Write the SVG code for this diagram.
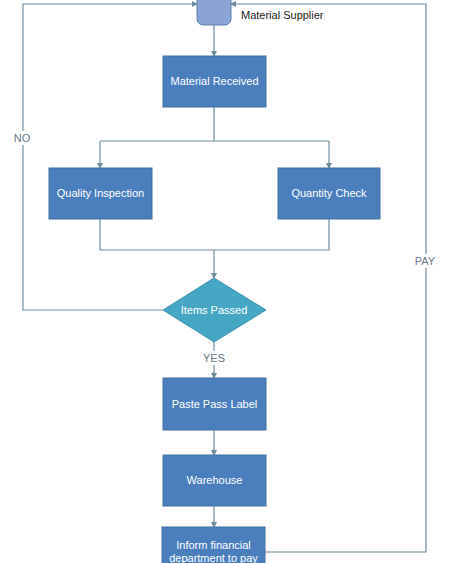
<svg xmlns="http://www.w3.org/2000/svg" width="450" height="563" viewBox="0 0 450 563">
<style>
.box{fill:#4A7EBD;stroke:#41709F;stroke-width:1}
.dia{fill:#46A7C4;stroke:#3F95AF;stroke-width:1}
.sup{fill:#8AA4D6;stroke:#5E7FAF;stroke-width:1}
.lbl{font-family:"Liberation Sans",Arial,sans-serif;font-size:11px;fill:#FFFFFF;text-anchor:middle}
.edge{fill:none;stroke:#6E8C9C;stroke-width:1.2}
.elbl{font-family:"Liberation Sans",Arial,sans-serif;font-size:11px;fill:#6A7A86;text-anchor:middle}
</style>
<defs>
<marker id="arr" markerWidth="6" markerHeight="6" refX="5" refY="3" orient="auto" markerUnits="userSpaceOnUse">
<path d="M0,0 L6,3 L0,6 Z" fill="#6E8C9C"/>
</marker>
</defs>
<rect width="450" height="563" fill="#FFFFFF"/>
<g id="connectors">
<path class="edge" d="M214,25 V56" marker-end="url(#arr)"/>
<path class="edge" d="M214,107 V141 M100,141 H329"/>
<path class="edge" d="M100,141 V168" marker-end="url(#arr)"/>
<path class="edge" d="M329,141 V168" marker-end="url(#arr)"/>
<path class="edge" d="M100,219 V250 H329 V219"/>
<path class="edge" d="M214,250 V278" marker-end="url(#arr)"/>
<path class="edge" d="M163,310 H23 V145 M23,131 V4 H197" marker-end="url(#arr)"/>
<path class="edge" d="M214,342 V351 M214,365 V378" marker-end="url(#arr)"/>
<path class="edge" d="M214,430 V455" marker-end="url(#arr)"/>
<path class="edge" d="M214,506 V527" marker-end="url(#arr)"/>
<path class="edge" d="M265,552 H426 V268 M426,254 V4 H231" marker-end="url(#arr)"/>
<text class="elbl" x="22" y="142">NO</text>
<text class="elbl" x="214" y="362">YES</text>
<text class="elbl" x="425" y="265">PAY</text>
</g>
<g id="supplier">
<rect class="sup" x="197" y="-8" width="34" height="33" rx="6"/>
<text x="241" y="19" font-family="'Liberation Sans',Arial,sans-serif" font-size="11" fill="#222222">Material Supplier</text>
</g>
<g id="received">
<rect class="box" x="163" y="56" width="103" height="51"/>
<text class="lbl" x="214.5" y="85">Material Received</text>
</g>
<g id="quality">
<rect class="box" x="49" y="168" width="103" height="51"/>
<text class="lbl" x="100.5" y="197">Quality Inspection</text>
</g>
<g id="quantity">
<rect class="box" x="278" y="168" width="102" height="51"/>
<text class="lbl" x="329" y="197">Quantity Check</text>
</g>
<g id="passed">
<polygon class="dia" points="214,278 266,310 214,342 163,310"/>
<text class="lbl" x="214" y="314">Items Passed</text>
</g>
<g id="paste">
<rect class="box" x="163" y="378" width="103" height="52"/>
<text class="lbl" x="214.5" y="408">Paste Pass Label</text>
</g>
<g id="warehouse">
<rect class="box" x="163" y="455" width="103" height="51"/>
<text class="lbl" x="214.5" y="484">Warehouse</text>
</g>
<g id="inform">
<rect class="box" x="162" y="527" width="103" height="45"/>
<text class="lbl" x="213.5" y="549">Inform financial</text>
<text class="lbl" x="213.5" y="562">department to pay</text>
</g>
</svg>
